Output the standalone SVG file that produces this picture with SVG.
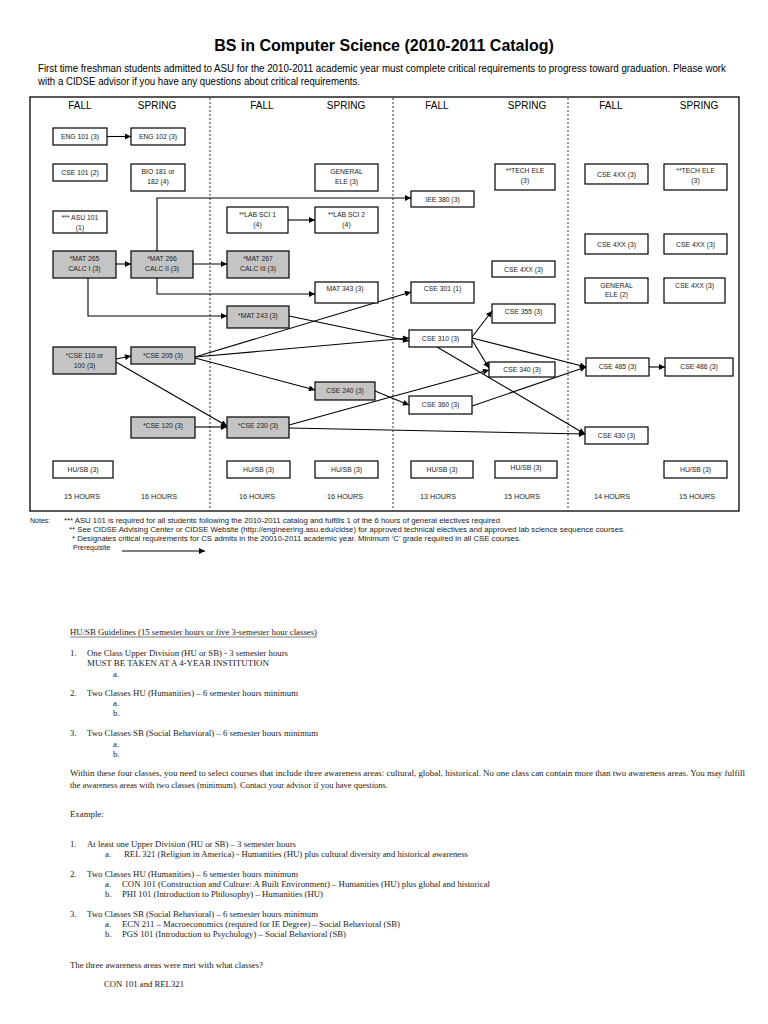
<svg xmlns="http://www.w3.org/2000/svg" width="768" height="1024" viewBox="0 0 768 1024">
<style>
.bg{fill:#fff}
.title{font-family:"Liberation Sans",Arial,sans-serif;font-weight:bold;font-size:16px;text-anchor:middle}
.para{font-family:"Liberation Sans",Arial,sans-serif;font-size:10px}
.hdr{font-family:"Liberation Sans",Arial,sans-serif;font-size:10px;text-anchor:middle}
.box{fill:#fff;stroke:#000;stroke-width:1.2}
.crit{fill:#c4c4c4;stroke:#000;stroke-width:1.2}
.nt{font-family:"Liberation Sans",Arial,sans-serif;font-size:6.8px;text-anchor:middle;fill:#222}
.hrs{font-family:"Liberation Sans",Arial,sans-serif;font-size:7.2px;text-anchor:middle;fill:#222}
.frame{fill:none;stroke:#000;stroke-width:1.3}
.div{stroke:#333;stroke-width:1;stroke-dasharray:2,2}
.con{fill:none;stroke:#000;stroke-width:1.1;marker-end:url(#ah)}
.note{font-family:"Liberation Sans",Arial,sans-serif;font-size:7px;fill:#222}
.ser{font-family:"Liberation Serif","Times New Roman",serif;font-size:8.8px;fill:#222}
</style>
<defs>
<marker id="ah" viewBox="0 0 10 10" refX="10" refY="5" markerWidth="7" markerHeight="6" markerUnits="userSpaceOnUse" orient="auto">
<path d="M0,0 L10,5 L0,10 z" fill="#000"/>
</marker>
</defs>
<rect class="bg" x="0" y="0" width="768" height="1024"/>

<text class="title" x="384" y="51">BS in Computer Science (2010-2011 Catalog)</text>
<text class="para" x="38" y="72" textLength="688" lengthAdjust="spacingAndGlyphs">First time freshman students admitted to ASU for the 2010-2011 academic year must complete critical requirements to progress toward graduation.   Please work</text>
<text class="para" x="38" y="85" textLength="322" lengthAdjust="spacingAndGlyphs">with a CIDSE advisor if you have any questions about critical requirements.</text>

<rect class="frame" x="30" y="97" width="709" height="414"/>
<line class="div" x1="210" y1="98" x2="210" y2="511"/>
<line class="div" x1="393" y1="98" x2="393" y2="511"/>
<line class="div" x1="568" y1="98" x2="568" y2="511"/>

<g id="headers">
<text class="hdr" x="80" y="109">FALL</text>
<text class="hdr" x="157" y="109">SPRING</text>
<text class="hdr" x="262" y="109">FALL</text>
<text class="hdr" x="346" y="109">SPRING</text>
<text class="hdr" x="437" y="109">FALL</text>
<text class="hdr" x="527" y="109">SPRING</text>
<text class="hdr" x="611" y="109">FALL</text>
<text class="hdr" x="699" y="109">SPRING</text>
</g>

<g id="connectors">
<path class="con" d="M107,136.5 H131"/>
<path class="con" d="M116,264 H131"/>
<path class="con" d="M193,264 H227"/>
<path class="con" d="M157,251 V198 H411"/>
<path class="con" d="M157,278 V294 H315"/>
<path class="con" d="M88,278 V316 H227"/>
<path class="con" d="M288,220 H315"/>
<path class="con" d="M116,359 L131,356"/>
<path class="con" d="M116,362 L227,426"/>
<path class="con" d="M195,427 H227"/>
<path class="con" d="M195,358 L315,390"/>
<path class="con" d="M195,357 L411,292"/>
<path class="con" d="M195,357 L409,338"/>
<path class="con" d="M289,316 L409,341"/>
<path class="con" d="M375,391 L409,405"/>
<path class="con" d="M289,425 L489,370"/>
<path class="con" d="M289,428 L585,434"/>
<path class="con" d="M472,337 L492,311"/>
<path class="con" d="M472,340 L489,368"/>
<path class="con" d="M472,338 L586,367"/>
<path class="con" d="M437,347 L585,434"/>
<path class="con" d="M472,406 L586,367"/>
<path class="con" d="M649,367 H665"/>
</g>

<g id="eng101"><rect class="box" x="53" y="128" width="54" height="17"/><text class="nt" x="80" y="139">ENG 101 (3)</text></g>
<g id="eng102"><rect class="box" x="131" y="128" width="54" height="17"/><text class="nt" x="158" y="139">ENG 102 (3)</text></g>
<g id="cse101"><rect class="box" x="53" y="164" width="54" height="17"/><text class="nt" x="80" y="175">CSE 101 (2)</text></g>
<g id="bio181"><rect class="box" x="131" y="164" width="54" height="27"/><text class="nt" x="158" y="174">BIO 181 or</text><text class="nt" x="158" y="184">182 (4)</text></g>
<g id="asu101"><rect class="box" x="53" y="211" width="54" height="22"/><text class="nt" x="80" y="220">*** ASU 101</text><text class="nt" x="80" y="230">(1)</text></g>
<g id="mat265"><rect class="crit" x="53" y="251" width="63" height="27"/><text class="nt" x="84.5" y="261">*MAT 265</text><text class="nt" x="84.5" y="271">CALC I (3)</text></g>
<g id="mat266"><rect class="crit" x="131" y="251" width="62" height="27"/><text class="nt" x="162" y="261">*MAT 266</text><text class="nt" x="162" y="271">CALC II (3)</text></g>
<g id="mat267"><rect class="crit" x="227" y="251" width="62" height="27"/><text class="nt" x="258" y="261">*MAT 267</text><text class="nt" x="258" y="271">CALC III (3)</text></g>
<g id="mat343"><rect class="box" x="315" y="282" width="63" height="21"/><text class="nt" x="345" y="291">MAT 343 (3)</text></g>
<g id="mat243"><rect class="crit" x="227" y="306" width="62" height="22"/><text class="nt" x="258" y="318">*MAT 243 (3)</text></g>
<g id="cse110"><rect class="crit" x="53" y="347" width="63" height="27"/><text class="nt" x="84.5" y="358">*CSE 110 or</text><text class="nt" x="84.5" y="368">100 (3)</text></g>
<g id="cse205"><rect class="crit" x="131" y="347" width="64" height="17"/><text class="nt" x="163" y="358">*CSE 205 (3)</text></g>
<g id="cse240"><rect class="crit" x="315" y="382" width="60" height="18"/><text class="nt" x="345" y="393">CSE 240 (3)</text></g>
<g id="cse120"><rect class="crit" x="131" y="417" width="64" height="21"/><text class="nt" x="163" y="428">*CSE 120 (3)</text></g>
<g id="cse230"><rect class="crit" x="227" y="417" width="62" height="21"/><text class="nt" x="258" y="428">*CSE 230 (3)</text></g>
<g id="gen3"><rect class="box" x="315" y="164" width="63" height="27"/><text class="nt" x="346.5" y="174">GENERAL</text><text class="nt" x="346.5" y="184">ELE (3)</text></g>
<g id="labsci1"><rect class="box" x="227" y="207" width="61" height="26"/><text class="nt" x="257.5" y="217">**LAB SCI 1</text><text class="nt" x="257.5" y="227">(4)</text></g>
<g id="labsci2"><rect class="box" x="315" y="207" width="63" height="26"/><text class="nt" x="346.5" y="217">**LAB SCI 2</text><text class="nt" x="346.5" y="227">(4)</text></g>
<g id="iee380"><rect class="box" x="411" y="191" width="63" height="16"/><text class="nt" x="442.5" y="201.5">IEE 380 (3)</text></g>
<g id="tech1"><rect class="box" x="495" y="164" width="60" height="26"/><text class="nt" x="525" y="173">**TECH ELE</text><text class="nt" x="525" y="183">(3)</text></g>
<g id="cse4xx1"><rect class="box" x="585" y="164" width="63" height="20"/><text class="nt" x="616.5" y="176.5">CSE 4XX (3)</text></g>
<g id="tech2"><rect class="box" x="664" y="164" width="63" height="26"/><text class="nt" x="695.5" y="173">**TECH ELE</text><text class="nt" x="695.5" y="183">(3)</text></g>
<g id="cse4xx2"><rect class="box" x="585" y="234" width="63" height="20"/><text class="nt" x="616.5" y="246.5">CSE 4XX (3)</text></g>
<g id="cse4xx3"><rect class="box" x="664" y="234" width="63" height="20"/><text class="nt" x="695.5" y="246.5">CSE 4XX (3)</text></g>
<g id="cse4xx4"><rect class="box" x="492" y="261" width="63" height="16"/><text class="nt" x="523.5" y="271.5">CSE 4XX (3)</text></g>
<g id="gen2"><rect class="box" x="585" y="278" width="63" height="25"/><text class="nt" x="616.5" y="288">GENERAL</text><text class="nt" x="616.5" y="297">ELE (2)</text></g>
<g id="cse4xx5"><rect class="box" x="664" y="278" width="61" height="25"/><text class="nt" x="694.5" y="288">CSE 4XX (3)</text></g>
<g id="cse301"><rect class="box" x="411" y="282" width="63" height="21"/><text class="nt" x="442.5" y="291">CSE 301 (1)</text></g>
<g id="cse355"><rect class="box" x="492" y="304" width="63" height="19"/><text class="nt" x="523.5" y="314">CSE 355 (3)</text></g>
<g id="cse310"><rect class="box" x="409" y="330" width="63" height="17"/><text class="nt" x="440.5" y="341">CSE 310 (3)</text></g>
<g id="cse340"><rect class="box" x="489" y="362" width="66" height="15"/><text class="nt" x="522" y="372">CSE 340 (3)</text></g>
<g id="cse485"><rect class="box" x="586" y="358" width="63" height="18"/><text class="nt" x="617.5" y="369">CSE 485 (3)</text></g>
<g id="cse486"><rect class="box" x="665" y="358" width="68" height="18"/><text class="nt" x="699" y="369">CSE 486 (3)</text></g>
<g id="cse360"><rect class="box" x="409" y="396" width="63" height="18"/><text class="nt" x="440.5" y="407">CSE 360 (3)</text></g>
<g id="cse430"><rect class="box" x="585" y="427" width="63" height="17"/><text class="nt" x="616.5" y="438">CSE 430 (3)</text></g>
<g id="husb1"><rect class="box" x="53" y="461" width="60" height="17"/><text class="nt" x="83" y="472">HU/SB (3)</text></g>
<g id="husb2"><rect class="box" x="227" y="461" width="63" height="17"/><text class="nt" x="258.5" y="472">HU/SB (3)</text></g>
<g id="husb3"><rect class="box" x="315" y="461" width="63" height="17"/><text class="nt" x="346.5" y="472">HU/SB (3)</text></g>
<g id="husb4"><rect class="box" x="411" y="461" width="62" height="17"/><text class="nt" x="442" y="472">HU/SB (3)</text></g>
<g id="husb5"><rect class="box" x="495" y="461" width="62" height="17"/><text class="nt" x="526" y="470">HU/SB (3)</text></g>
<g id="husb6"><rect class="box" x="664" y="461" width="63" height="17"/><text class="nt" x="695.5" y="472">HU/SB (3)</text></g>

<g id="hours">
<text class="hrs" x="82" y="499">15 HOURS</text>
<text class="hrs" x="159" y="499">16 HOURS</text>
<text class="hrs" x="257" y="499">16 HOURS</text>
<text class="hrs" x="345" y="499">16 HOURS</text>
<text class="hrs" x="438" y="499">13 HOURS</text>
<text class="hrs" x="522" y="499">15 HOURS</text>
<text class="hrs" x="612" y="499">14 HOURS</text>
<text class="hrs" x="697" y="499">15 HOURS</text>
</g>

<g id="notes">
<text class="note" x="30" y="523">Notes:</text>
<text class="note" x="64" y="523" textLength="436" lengthAdjust="spacingAndGlyphs">*** ASU 101 is required for all students following the 2010-2011 catalog and fulfills 1 of the 6 hours of general electives required</text>
<text class="note" x="69" y="532" textLength="556" lengthAdjust="spacingAndGlyphs">** See CIDSE Advising Center or CIDSE Website (http://engineering.asu.edu/cidse) for approved technical electives and approved lab science sequence courses.</text>
<text class="note" x="72" y="541" textLength="449" lengthAdjust="spacingAndGlyphs">* Designates critical requirements for CS admits in the 20010-2011 academic year.  Minimum ‘C’ grade required in all CSE courses.</text>
<text class="note" x="73" y="550">Prerequisite</text>
<path class="con" d="M122,551 H205"/>
</g>

<g id="guidelines">
<text class="ser" x="70" y="635" textLength="247" lengthAdjust="spacingAndGlyphs">HU/SB Guidelines (15 semester hours or five 3-semester hour classes)</text>
<line x1="70" y1="637" x2="317" y2="637" stroke="#222" stroke-width="0.6"/>
<text class="ser" x="70" y="656">1.</text>
<text class="ser" x="87" y="656" textLength="201" lengthAdjust="spacingAndGlyphs">One Class Upper Division (HU or SB) - 3 semester hours</text>
<text class="ser" x="87" y="666" textLength="182" lengthAdjust="spacingAndGlyphs">MUST BE TAKEN AT A 4-YEAR INSTITUTION</text>
<text class="ser" x="113" y="677">a.</text>
<text class="ser" x="70" y="696">2.</text>
<text class="ser" x="87" y="696" textLength="211" lengthAdjust="spacingAndGlyphs">Two Classes HU (Humanities) – 6 semester hours minimum</text>
<text class="ser" x="113" y="706">a.</text>
<text class="ser" x="113" y="716">b.</text>
<text class="ser" x="70" y="736">3.</text>
<text class="ser" x="87" y="736" textLength="231" lengthAdjust="spacingAndGlyphs">Two Classes SB (Social Behavioral) – 6 semester hours minimum</text>
<text class="ser" x="113" y="747">a.</text>
<text class="ser" x="113" y="757">b.</text>
<text class="ser" x="70" y="776" textLength="675" lengthAdjust="spacingAndGlyphs">Within these four classes, you need to select courses that include three awareness areas: cultural, global, historical. No one class can contain more than two awareness areas. You may fulfill</text>
<text class="ser" x="70" y="788" textLength="318" lengthAdjust="spacingAndGlyphs">the awareness areas with two classes (minimum). Contact your advisor if you have questions.</text>
<text class="ser" x="70" y="817">Example:</text>
<text class="ser" x="70" y="847">1.</text>
<text class="ser" x="87" y="847" textLength="209" lengthAdjust="spacingAndGlyphs">At least one Upper Division (HU or SB) – 3 semester hours</text>
<text class="ser" x="105" y="857">a.</text>
<text class="ser" x="124" y="857" textLength="344" lengthAdjust="spacingAndGlyphs">REL 321 (Religion in America) - Humanities (HU) plus cultural diversity and historical awareness</text>
<text class="ser" x="70" y="877">2.</text>
<text class="ser" x="87" y="877" textLength="211" lengthAdjust="spacingAndGlyphs">Two Classes HU (Humanities) – 6 semester hours minimum</text>
<text class="ser" x="105" y="887">a.</text>
<text class="ser" x="122" y="887" textLength="368" lengthAdjust="spacingAndGlyphs">CON 101 (Construction and Culture: A Built Environment) – Humanities (HU) plus global and historical</text>
<text class="ser" x="105" y="897">b.</text>
<text class="ser" x="122" y="897" textLength="201" lengthAdjust="spacingAndGlyphs">PHI 101 (Introduction to Philosophy) – Humanities (HU)</text>
<text class="ser" x="70" y="917">3.</text>
<text class="ser" x="87" y="917" textLength="231" lengthAdjust="spacingAndGlyphs">Two Classes SB (Social Behavioral) – 6 semester hours minimum</text>
<text class="ser" x="105" y="927">a.</text>
<text class="ser" x="122" y="927" textLength="278" lengthAdjust="spacingAndGlyphs">ECN 211 – Macroeconomics (required for IE Degree) – Social Behavioral (SB)</text>
<text class="ser" x="105" y="937">b.</text>
<text class="ser" x="122" y="937" textLength="224" lengthAdjust="spacingAndGlyphs">PGS 101 (Introduction to Psychology) – Social Behavioral (SB)</text>
<text class="ser" x="70" y="968" textLength="193" lengthAdjust="spacingAndGlyphs">The three awareness areas were met with what classes?</text>
<text class="ser" x="104" y="987" textLength="80" lengthAdjust="spacingAndGlyphs">CON 101 and REL321</text>
</g>
</svg>
